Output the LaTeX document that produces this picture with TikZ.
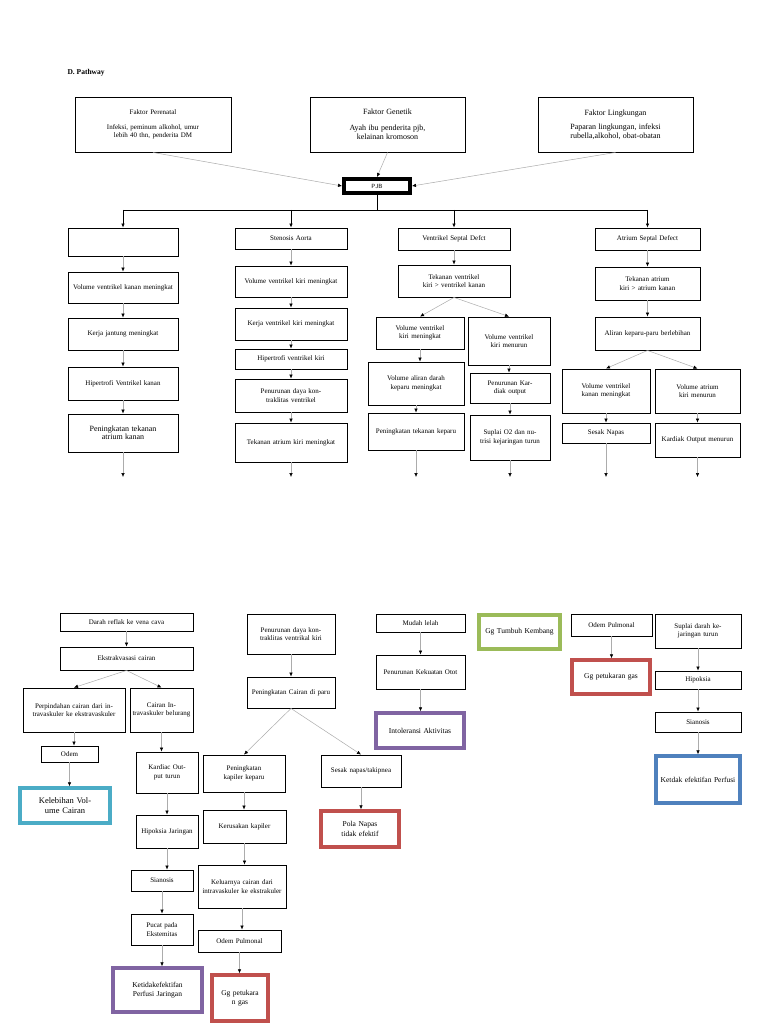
\documentclass[tikz,border=0pt]{standalone}
\usepackage{fontspec}
\setmainfont{Liberation Serif}
\usetikzlibrary{arrows.meta}
\tikzset{
 box/.style={draw=black,line width=0.9pt,fill=white,inner sep=0pt,align=center,font=\fontsize{7}{8.5}\selectfont},
 big/.style={line width=3.5pt,font=\fontsize{8.5}{10}\selectfont},
 arr/.style={draw=gray!65,line width=0.5pt,-{Latex[black,length=4pt,width=3.5pt]}},
 barr/.style={draw=black,line width=0.6pt,-{Latex[black,length=4pt,width=3.5pt]}},
}
\newcommand\bx[7][]{%
 \pgfmathsetmacro\bw{#5-#3}\pgfmathsetmacro\bh{#6-#4}\pgfmathsetmacro\tw{#5-#3-5}%
 \pgfmathsetmacro\cx{(#3+#5)/2}\pgfmathsetmacro\cy{(#4+#6)/2}%
 \node[box,minimum width=\bw pt,minimum height=\bh pt,text width=\tw pt,#1] (#2) at (\cx,\cy) {#7};}
\newcommand\ar[2]{\draw[arr] (#1.south) -- (#1.south |- #2.north);}
\begin{document}
\begin{tikzpicture}[x=1pt,y=-1pt]
\useasboundingbox[fill=white] (0,0) rectangle (768,1024);
\node[anchor=west,font=\bfseries\fontsize{7.5}{9}\selectfont] (title) at (64,73) {D. Pathway};
% top
\bx{fp}{75}{97}{231}{152}{Faktor Perenatal\\[6pt]Infeksi, peminum alkohol, umur lebih 40 thn, penderita DM}
\bx{fg}{310}{97}{465}{152}{\fontsize{8}{10}\selectfont Faktor Genetik\\[6pt]Ayah ibu penderita pjb,\\ kelainan kromoson}
\bx{fl}{538}{97}{693}{152}{\fontsize{8}{10}\selectfont Faktor Lingkungan\\[6pt]Paparan lingkungan, infeksi rubella,alkohol, obat-obatan}
\bx[line width=4pt,font=\sffamily\fontsize{6}{7}\selectfont]{ptr}{344}{179}{410}{193}{PJB}
\draw[arr] (fp.south) -- (ptr.west);
\draw[arr] (fg.south) -- (ptr.north);
\draw[arr] (fl.south) -- (ptr.east);
% columns top
\bx{c1a}{68}{228}{178}{256}{}
\bx{c1b}{68}{272}{178}{303}{Volume ventrikel kanan meningkat}
\bx{c1c}{68}{318}{178}{350}{Kerja jantung meningkat}
\bx{c1d}{68}{367}{178}{400}{Hipertrofi Ventrikel kanan}
\bx{c1e}{68}{414}{178}{452}{\fontsize{8}{10}\selectfont Peningkatan tekanan atrium kanan}
\bx{c2a}{235}{228}{347}{249}{Stenosis Aorta}
\bx{c2b}{235}{266}{347}{297}{Volume ventrikel kiri meningkat}
\bx{c2c}{235}{308}{347}{340}{Kerja ventrikel kiri meningkat}
\bx{c2d}{235}{349}{347}{369}{Hipertrofi ventrikel kiri}
\bx{c2e}{235}{379}{347}{412}{Penurunan daya kontraklitas ventrikel}
\bx{c2f}{235}{423}{347}{462}{Tekanan atrium kiri meningkat}
\bx{c3a}{398}{228}{510}{250}{Ventrikel Septal Defct}
\bx{c3b}{398}{265}{510}{297}{Tekanan ventrikel kiri > ventrikel kanan}
\bx{c3c}{376}{317}{464}{349}{Volume ventrikel kiri meningkat}
\bx{c3d}{468}{317}{550}{365}{Volume ventrikel kiri menurun}
\bx{c3e}{368}{362}{464}{405}{Volume aliran darah keparu meningkat}
\bx{c3f}{368}{413}{464}{450}{Peningkatan tekanan keparu}
\bx{c3g}{470}{373}{550}{403}{Penurunan Kardiak output}
\bx{c3h}{470}{415}{550}{460}{Suplai O2 dan nutrisi kejaringan turun}
\bx{c4a}{595}{228}{700}{250}{Atrium Septal Defect}
\bx{c4b}{595}{267}{700}{300}{Tekanan atrium kiri > atrium kanan}
\bx{c4c}{595}{317}{700}{350}{Aliran keparu-paru berlebihan}
\bx{c4d}{562}{369}{650}{413}{Volume ventrikel kanan meningkat}
\bx{c4e}{655}{369}{740}{413}{Volume atrium kiri menurun}
\bx{c4f}{562}{423}{650}{443}{Sesak Napas}
\bx{c4g}{655}{423}{740}{457}{Kardiak Output menurun}
% bus
\coordinate (bus) at (377,210);
\draw[black,line width=0.6pt] (ptr.south) -- (bus);
\draw[black,line width=0.6pt] (bus -| c1a.north) -- (bus -| c4a.north);
\foreach \n in {c1a,c2a,c3a,c4a} \draw[barr] (bus -| \n.north) -- (\n.north);
\ar{c1a}{c1b}\ar{c1b}{c1c}\ar{c1c}{c1d}\ar{c1d}{c1e}
\ar{c2a}{c2b}\ar{c2b}{c2c}\ar{c2c}{c2d}\ar{c2d}{c2e}\ar{c2e}{c2f}
\ar{c3a}{c3b}\draw[arr] (c3b.south) -- (c3c.north);\draw[arr] (c3b.south) -- (c3d.north);
\ar{c3c}{c3e}\ar{c3e}{c3f}\ar{c3d}{c3g}\ar{c3g}{c3h}
\ar{c4a}{c4b}\ar{c4b}{c4c}\draw[arr] (c4c.south) -- (c4d.north);\draw[arr] (c4c.south) -- (c4e.north);
\ar{c4d}{c4f}\ar{c4e}{c4g}
\foreach \n in {c1e,c2f,c3f,c3h,c4f,c4g} {\coordinate (\n-end) at (\n.south |- 0,477); \draw[arr] (\n.south) -- (\n-end);}
% bottom
\bx{d1}{60}{613}{193}{631}{Darah reflak ke vena cava}
\bx{d2}{60}{647}{193}{670}{Ekstrakvasasi cairan}
\bx{d3}{23}{688}{125}{732}{Perpindahan cairan dari intravaskuler ke ekstravaskuler}
\bx{d4}{130}{688}{193}{732}{Cairan Intravaskuler belurang}
\bx{d5}{41}{746}{98}{762}{Odem}
\bx[big,draw={rgb,255:red,75;green,172;blue,198}]{d6}{20}{788}{110}{823}{Kelebihan Volume Cairan}
\bx{d7}{136}{752}{198}{793}{Kardiac Output turun}
\bx{d8}{136}{815}{198}{848}{Hipoksia Jaringan}
\bx{d9}{131}{870}{193}{891}{Sianosis}
\bx{d10}{131}{914}{193}{945}{Pucat pada Ekstemitas}
\bx[big,font=\fontsize{7.5}{9.5}\selectfont,draw={rgb,255:red,128;green,100;blue,162}]{d11}{113}{968}{202}{1012}{Ketidakefektifan Perfusi Jaringan}
\bx{e1}{247}{614}{335}{654}{Penurunan daya kontraklitas ventrikal kiri}
\bx{e2}{247}{677}{335}{708}{Peningkatan Cairan di paru}
\bx{e3}{203}{755}{285}{792}{Peningkatan kapiler keparu}
\bx{e4}{321}{755}{401}{787}{Sesak napas/takipnea}
\bx[big,font=\fontsize{7.5}{9.5}\selectfont,draw={rgb,255:red,192;green,80;blue,77}]{e5}{321}{811}{399}{847}{Pola Napas tidak efektif}
\bx{e6}{203}{810}{286}{843}{Kerusakan kapiler}
\bx{e7}{198}{865}{286}{908}{Keluarnya cairan dari intravaskuler ke ekstrakuler}
\bx{e8}{198}{930}{281}{952}{Odem Pulmonal}
\bx[big,font=\fontsize{7.5}{9.5}\selectfont,draw={rgb,255:red,192;green,80;blue,77}]{e9}{212}{975}{268}{1021}{Gg petukara n gas}
\bx{f1}{376}{614}{465}{632}{Mudah lelah}
\bx{f2}{376}{655}{465}{689}{Penurunan Kekuatan Otot}
\bx[big,font=\fontsize{7.5}{9.5}\selectfont,draw={rgb,255:red,128;green,100;blue,162}]{f3}{376}{713}{464}{748}{Intoleransi Aktivitas}
\bx[big,font=\fontsize{7.5}{9.5}\selectfont,draw={rgb,255:red,155;green,187;blue,89}]{g1}{479}{615}{560}{649}{Gg Tumbuh Kembang}
\bx{h1}{571}{614}{652}{636}{Odem Pulmonal}
\bx[big,font=\fontsize{7.5}{9.5}\selectfont,draw={rgb,255:red,192;green,80;blue,77}]{h2}{572}{660}{650}{694}{Gg petukaran gas}
\bx{i1}{655}{614}{741}{648}{Suplai darah kejaringan turun}
\bx{i2}{655}{671}{741}{689}{Hipoksia}
\bx{i3}{655}{712}{741}{732}{Sianosis}
\bx[big,font=\fontsize{7.5}{9.5}\selectfont,draw={rgb,255:red,79;green,129;blue,189}]{i4}{656}{756}{740}{803}{Ketdak efektifan Perfusi}
\ar{d1}{d2}
\draw[arr] (d2.south) -- (d3.north);\draw[arr] (d2.south) -- (d4.north);
\ar{d3}{d5}\ar{d5}{d6}\ar{d4}{d7}\ar{d7}{d8}\ar{d8}{d9}\ar{d9}{d10}\ar{d10}{d11}
\ar{e1}{e2}
\draw[arr] (e2.south) -- (e3.north);\draw[arr] (e2.south) -- (e4.north);
\ar{e4}{e5}\ar{e3}{e6}\ar{e6}{e7}\ar{e7}{e8}\ar{e8}{e9}
\ar{f1}{f2}\ar{f2}{f3}
\ar{h1}{h2}
\ar{i1}{i2}\ar{i2}{i3}\ar{i3}{i4}
\end{tikzpicture}
\end{document}
